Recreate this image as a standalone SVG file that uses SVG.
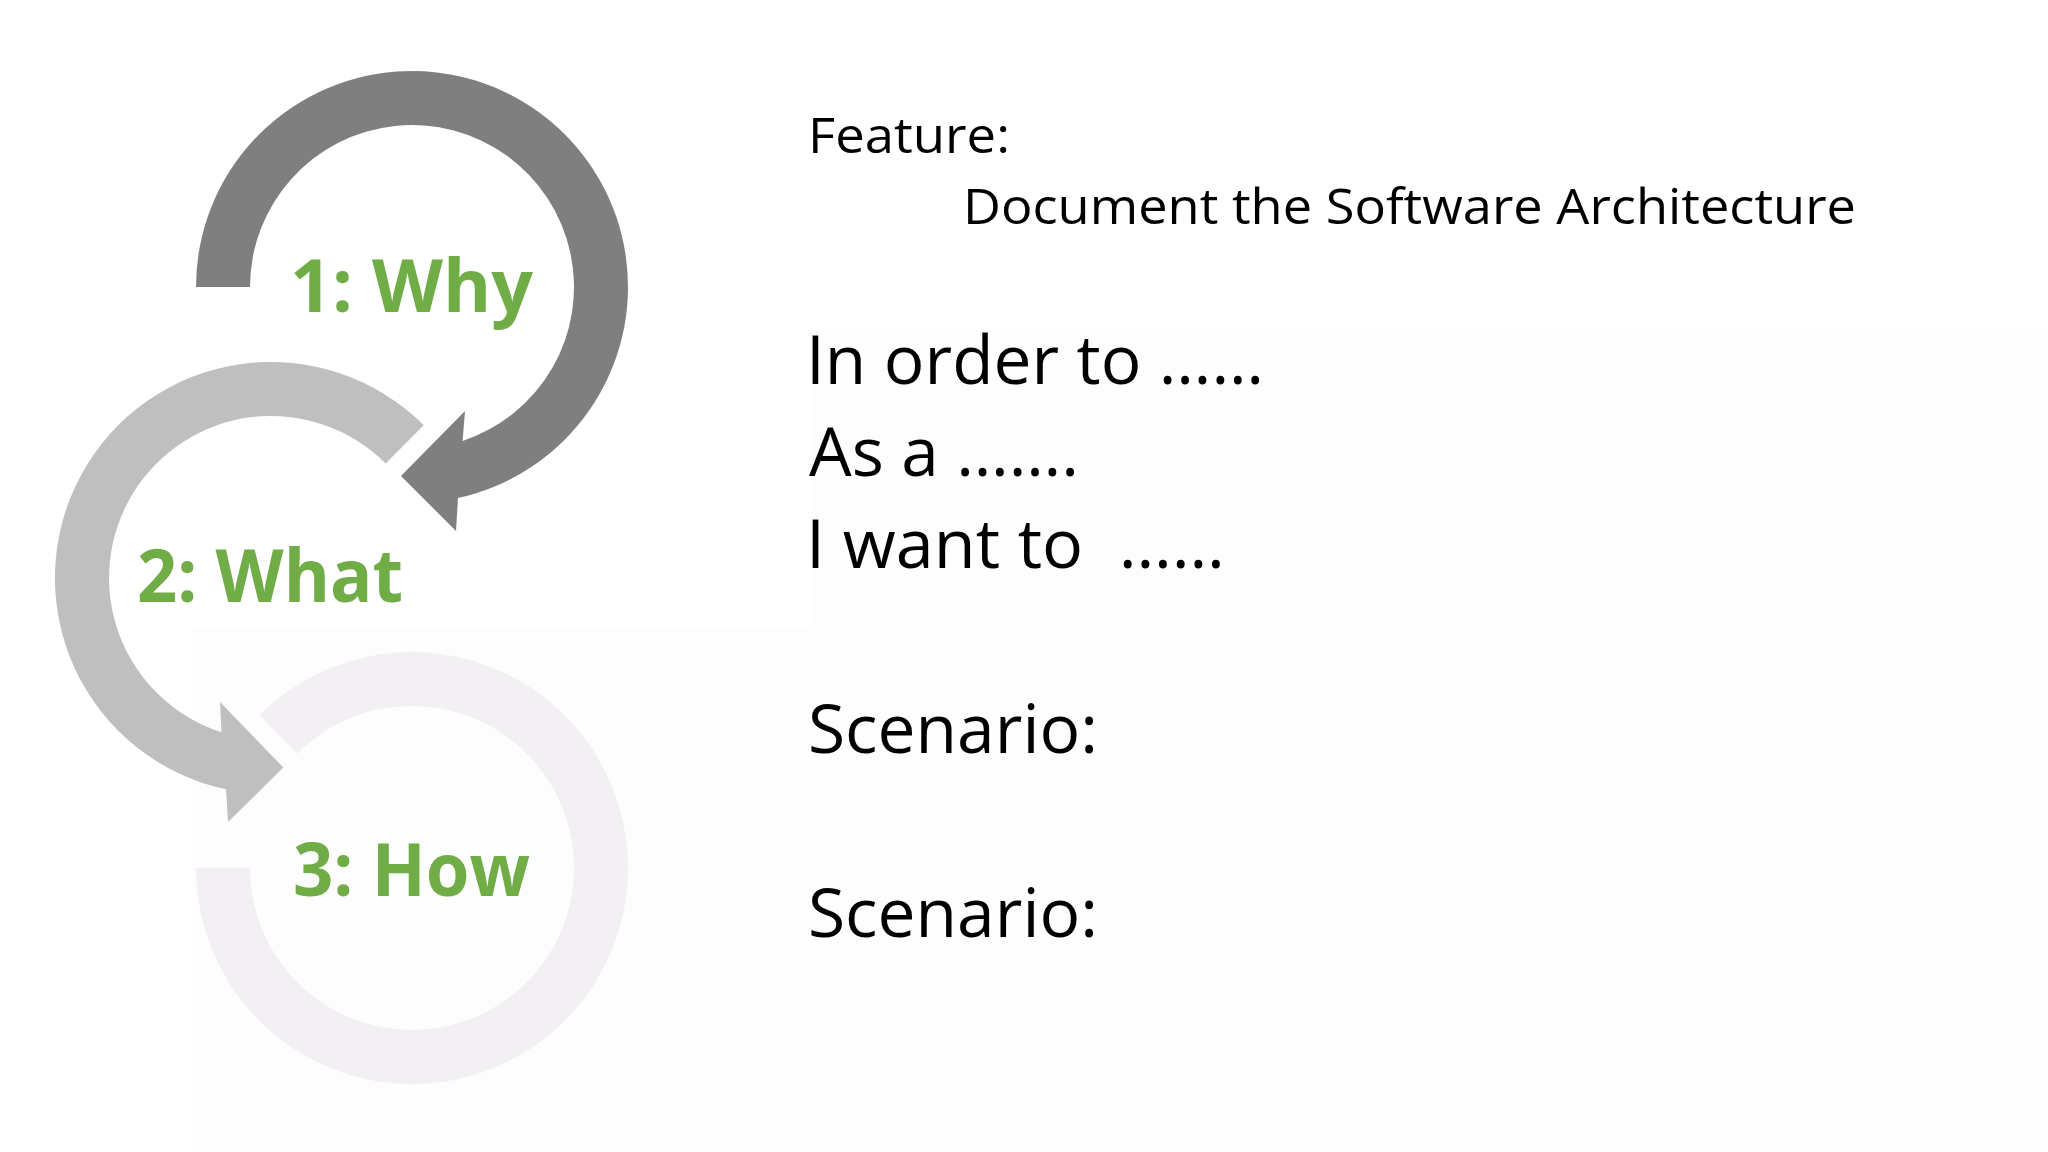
<svg xmlns="http://www.w3.org/2000/svg" width="2048" height="1152" viewBox="0 0 2048 1152">
  <style>
    .lbl { font-family: "Open Sans", "Noto Sans", sans-serif; font-weight: bold; fill: #70ad47; font-size: 74px; }
    .txt { font-family: "Open Sans", "Noto Sans", sans-serif; fill: #000000; white-space: pre; }
    .small { font-size: 50px; }
    .big { font-size: 67px; }
  </style>
  <rect x="0" y="0" width="2048" height="1152" fill="#ffffff"/>
  <rect x="193" y="627" width="1855" height="525" fill="#fdfdfd"/>
  <rect x="810" y="330" width="1238" height="822" fill="#fdfdfd"/>
  <g id="connectors">
    <path id="arc3" d="M 259.3 715.3 A 216 216 0 1 1 196 868 L 250 868 A 162 162 0 1 0 297.4 753.4 Z" fill="#f2f0f3"/>
    <path id="arrow2" d="M 423.7 425.3 A 216 216 0 1 0 226.1 789.3 L 228 822 L 283.3 767.5 L 220 702 L 221.5 732.2 A 162 162 0 1 1 385.6 463.4 Z" fill="#bfbfbf"/>
    <path id="arrow1" d="M 196 287 A 216 216 0 1 1 458 498 L 456 531 L 401 476 L 465 411 L 462.6 440.9 A 162 162 0 1 0 250 287 Z" fill="#7f7f7f"/>
  </g>
  <g id="node-why">
    <text class="lbl" x="290" y="312" textLength="243" lengthAdjust="spacingAndGlyphs">1: Why</text>
  </g>
  <g id="node-what">
    <text class="lbl" x="137" y="602" textLength="266" lengthAdjust="spacingAndGlyphs">2: What</text>
  </g>
  <g id="node-how">
    <text class="lbl" x="293" y="896" textLength="237" lengthAdjust="spacingAndGlyphs">3: How</text>
  </g>
  <g id="feature">
    <text class="txt small" x="808" y="153" textLength="202" lengthAdjust="spacingAndGlyphs">Feature:</text>
    <text class="txt small" x="963" y="224" textLength="893" lengthAdjust="spacingAndGlyphs">Document the Software Architecture</text>
  </g>
  <g id="story">
    <text class="txt big" x="806" y="384" textLength="458" lengthAdjust="spacingAndGlyphs">In order to ……</text>
    <text class="txt big" x="809" y="476" textLength="270" lengthAdjust="spacingAndGlyphs">As a …….</text>
    <text class="txt big" x="806" y="568" textLength="419" lengthAdjust="spacingAndGlyphs">I want to  ……</text>
  </g>
  <g id="scenarios">
    <text class="txt big" x="808" y="753" textLength="290" lengthAdjust="spacingAndGlyphs">Scenario:</text>
    <text class="txt big" x="808" y="937" textLength="290" lengthAdjust="spacingAndGlyphs">Scenario:</text>
  </g>
</svg>
